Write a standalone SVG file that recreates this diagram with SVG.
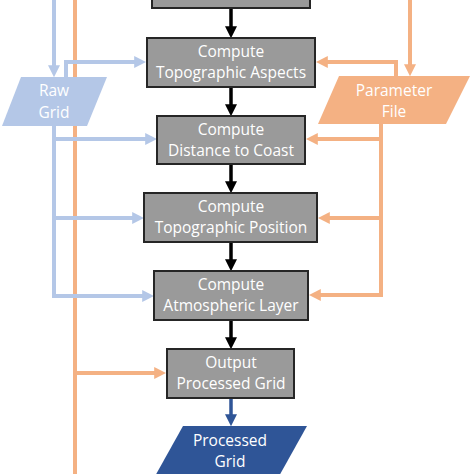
<svg xmlns="http://www.w3.org/2000/svg" width="474" height="474" viewBox="0 0 474 474">
<style>
.box{fill:#9a9a9a;stroke:#262626;stroke-width:2}
.t{font-family:"Open Sans","Liberation Sans",sans-serif;font-size:15.5px;fill:#ffffff;text-anchor:middle}
.bl{fill:none;stroke:#b4c7e7;stroke-width:4}
.or{fill:none;stroke:#f4b183;stroke-width:4}
.bk{fill:none;stroke:#000000;stroke-width:3.5}
.db{fill:none;stroke:#2f5597;stroke-width:3.5}
</style>
<defs>
<marker id="aBl" viewBox="0 0 10 10" refX="4" refY="5" markerWidth="12" markerHeight="12" markerUnits="userSpaceOnUse" orient="auto"><path d="M0,0 L10,5 L0,10 z" fill="#b4c7e7"/></marker>
<marker id="aOr" viewBox="0 0 10 10" refX="4" refY="5" markerWidth="12" markerHeight="12" markerUnits="userSpaceOnUse" orient="auto"><path d="M0,0 L10,5 L0,10 z" fill="#f4b183"/></marker>
<marker id="aBk" viewBox="0 0 10 10" refX="4" refY="5" markerWidth="12" markerHeight="12" markerUnits="userSpaceOnUse" orient="auto"><path d="M0,0 L10,5 L0,10 z" fill="#000000"/></marker>
<marker id="aDb" viewBox="0 0 10 10" refX="4" refY="5" markerWidth="12" markerHeight="12" markerUnits="userSpaceOnUse" orient="auto"><path d="M0,0 L10,5 L0,10 z" fill="#2f5597"/></marker>
</defs>
<g id="connectors">
<path class="or" d="M75 0 V474"/>
<path class="or" d="M75 373 H159" marker-end="url(#aOr)"/>
<path class="or" d="M410 0 V69" marker-end="url(#aOr)"/>
<path class="or" d="M396 77 V62 H323" marker-end="url(#aOr)"/>
<path class="or" d="M381 124 V295 H316" marker-end="url(#aOr)"/>
<path class="or" d="M381 139 H313" marker-end="url(#aOr)"/>
<path class="or" d="M381 218 H325" marker-end="url(#aOr)"/>
<path class="bl" d="M54 0 V70" marker-end="url(#aBl)"/>
<path class="bl" d="M66 78 V62 H139" marker-end="url(#aBl)"/>
<path class="bl" d="M54 125 V296 H147" marker-end="url(#aBl)"/>
<path class="bl" d="M54 139 H150" marker-end="url(#aBl)"/>
<path class="bl" d="M54 218 H137" marker-end="url(#aBl)"/>
<path class="bk" d="M231 8 V31" marker-end="url(#aBk)"/>
<path class="bk" d="M231 87 V109" marker-end="url(#aBk)"/>
<path class="bk" d="M231 164 V186" marker-end="url(#aBk)"/>
<path class="bk" d="M231 242 V264" marker-end="url(#aBk)"/>
<path class="bk" d="M231 320 V342" marker-end="url(#aBk)"/>
<path class="db" d="M231 398 V419" marker-end="url(#aDb)"/>
</g>
<g id="top-box"><rect class="box" x="152" y="-10" width="158" height="18"/></g>
<g id="raw-grid">
<polygon points="21,77 107,77 87,126 2,126" fill="#b4c7e7"/>
<text class="t" x="54" y="96">Raw</text>
<text class="t" x="54" y="118">Grid</text>
</g>
<g id="parameter-file">
<polygon points="339,76 470,76 446,124 318,124" fill="#f4b183"/>
<text class="t" x="394" y="96">Parameter</text>
<text class="t" x="394" y="117">File</text>
</g>
<g id="topo-aspects">
<rect class="box" x="147" y="38" width="168" height="49"/>
<text class="t" x="231" y="57">Compute</text>
<text class="t" x="231" y="78">Topographic Aspects</text>
</g>
<g id="distance-coast">
<rect class="box" x="157" y="116" width="148" height="48"/>
<text class="t" x="231" y="135">Compute</text>
<text class="t" x="231" y="156">Distance to Coast</text>
</g>
<g id="topo-position">
<rect class="box" x="144" y="193" width="173" height="49"/>
<text class="t" x="231" y="212">Compute</text>
<text class="t" x="231" y="233">Topographic Position</text>
</g>
<g id="atmospheric-layer">
<rect class="box" x="154" y="271" width="154" height="49"/>
<text class="t" x="231" y="290">Compute</text>
<text class="t" x="231" y="311">Atmospheric Layer</text>
</g>
<g id="output-grid">
<rect class="box" x="167" y="349" width="127" height="49"/>
<text class="t" x="231" y="368">Output</text>
<text class="t" x="231" y="389">Processed Grid</text>
</g>
<g id="processed-grid">
<polygon points="183,426 307,426 278,478 154,478" fill="#2f5597"/>
<text class="t" x="230" y="446">Processed</text>
<text class="t" x="230" y="467">Grid</text>
</g>
</svg>
